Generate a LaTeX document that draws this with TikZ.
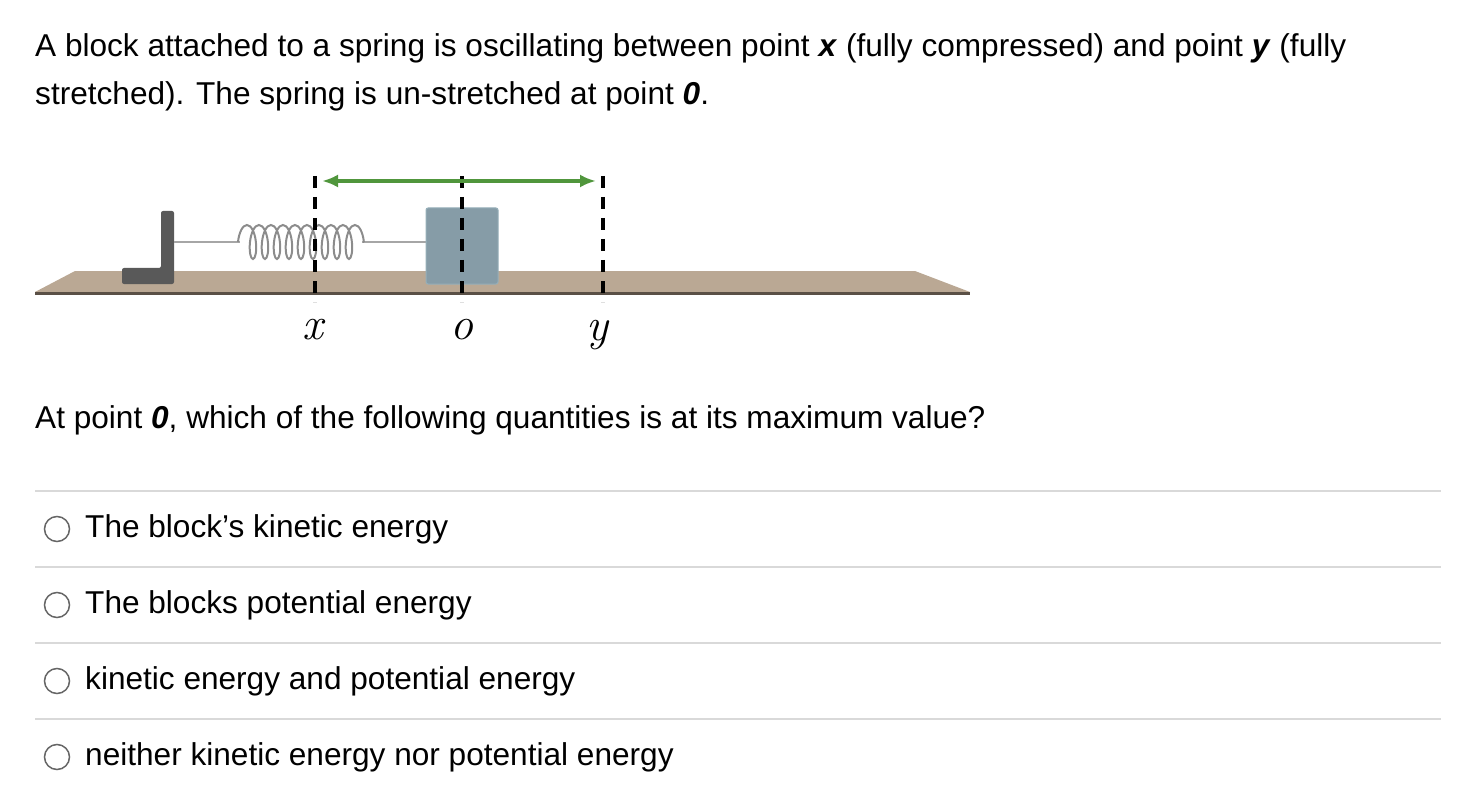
\documentclass[tikz,border=0pt]{standalone}
\usepackage{fontspec}
\setmainfont{Liberation Sans}
\newfontfamily\lmrfont{Latin Modern Roman}
\usetikzlibrary{decorations.pathmorphing,arrows.meta}
\begin{document}
\begin{tikzpicture}[x=1pt,y=-1pt,
  txt/.style={anchor=base west,inner sep=0pt,font=\fontsize{31.6}{36}\selectfont},
  lab/.style={inner sep=0pt,font=\lmrfont\itshape\fontsize{46}{50}\selectfont},
  sep/.style={draw=black!15,line width=1.5pt},
  radio/.style={draw=black!60,line width=1.5pt,fill=white,circle,minimum size=25pt,inner sep=0pt},
  guide/.style={black,line width=3.5pt,dash pattern=on 12pt off 9pt}]
\useasboundingbox (0,0) rectangle (1458,810);
\node[txt] (t1) at (35,57) {A block attached to a spring is oscillating between point \textbf{\textit{x}} (fully compressed) and point \textbf{\textit{y}} (fully};
\node[txt] (t2) at (35,105) {stretched). The spring is un-stretched at point \textbf{\textit{0}}.};
% floor
\fill[fill={rgb,255:red,186;green,168;blue,148}] (75,271) -- (915,271) -- (970,292) -- (35,292) -- cycle;
\draw[line width=3pt,draw={rgb,255:red,90;green,80;blue,70}] (35,293) -- (970,293);
% wall
\fill[black!65,rounded corners=2pt] (161,211) -- (174,211) -- (174,284) -- (122,284) -- (122,268) -- (161,268) -- cycle;
% rods
\draw[black!35,line width=2.5pt] (174,242) -- (240,242);
\draw[black!35,line width=2.5pt] (362,242) -- (427,242);
% spring
\draw[black!45,line width=2pt,decorate,decoration={coil,amplitude=17pt,segment length=12pt,aspect=0.35}] (238,242) -- (364,242);
% block
\node[draw={rgb,255:red,150;green,175;blue,185},fill={rgb,255:red,134;green,156;blue,167},line width=1pt,rounded corners=2pt,minimum width=72pt,minimum height=76pt,inner sep=0pt] (blk) at (462,246) {};
% guides
\coordinate (xt) at (315,176); \coordinate (xb) at (315,302);
\coordinate (ot) at (462,176); \coordinate (ob) at (462,302);
\coordinate (yt) at (603,176); \coordinate (yb) at (603,302);
\draw[guide] (xt) -- (xb);
\draw[guide] (ot) -- (ob);
\draw[guide] (yt) -- (yb);
\coordinate (al) at (322,181); \coordinate (ar) at (596,181);
\draw[{Latex[length=16pt,width=13pt]}-{Latex[length=16pt,width=13pt]},line width=3.5pt,draw={rgb,255:red,80;green,150;blue,60}] (al) -- (ar);
\node[lab] (lx) at (313,330) {x};
\node[lab] (lo) at (462,330) {o};
\node[lab] (ly) at (597,335) {y};
\node[txt] (q) at (35,428) {At point \textbf{\textit{0}}, which of the following quantities is at its maximum value?};
\foreach \yy in {491,567,643,719} \draw[sep] (35,\yy) -- (1441,\yy);
\node[radio] (r1) at (57,529) {};
\node[radio] (r2) at (57,605) {};
\node[radio] (r3) at (57,681) {};
\node[radio] (r4) at (57,757) {};
\node[txt] (o1) at (85,537) {The block’s kinetic energy};
\node[txt] (o2) at (85,613) {The blocks potential energy};
\node[txt] (o3) at (85,689) {kinetic energy and potential energy};
\node[txt] (o4) at (85,765) {neither kinetic energy nor potential energy};
\end{tikzpicture}
\end{document}
